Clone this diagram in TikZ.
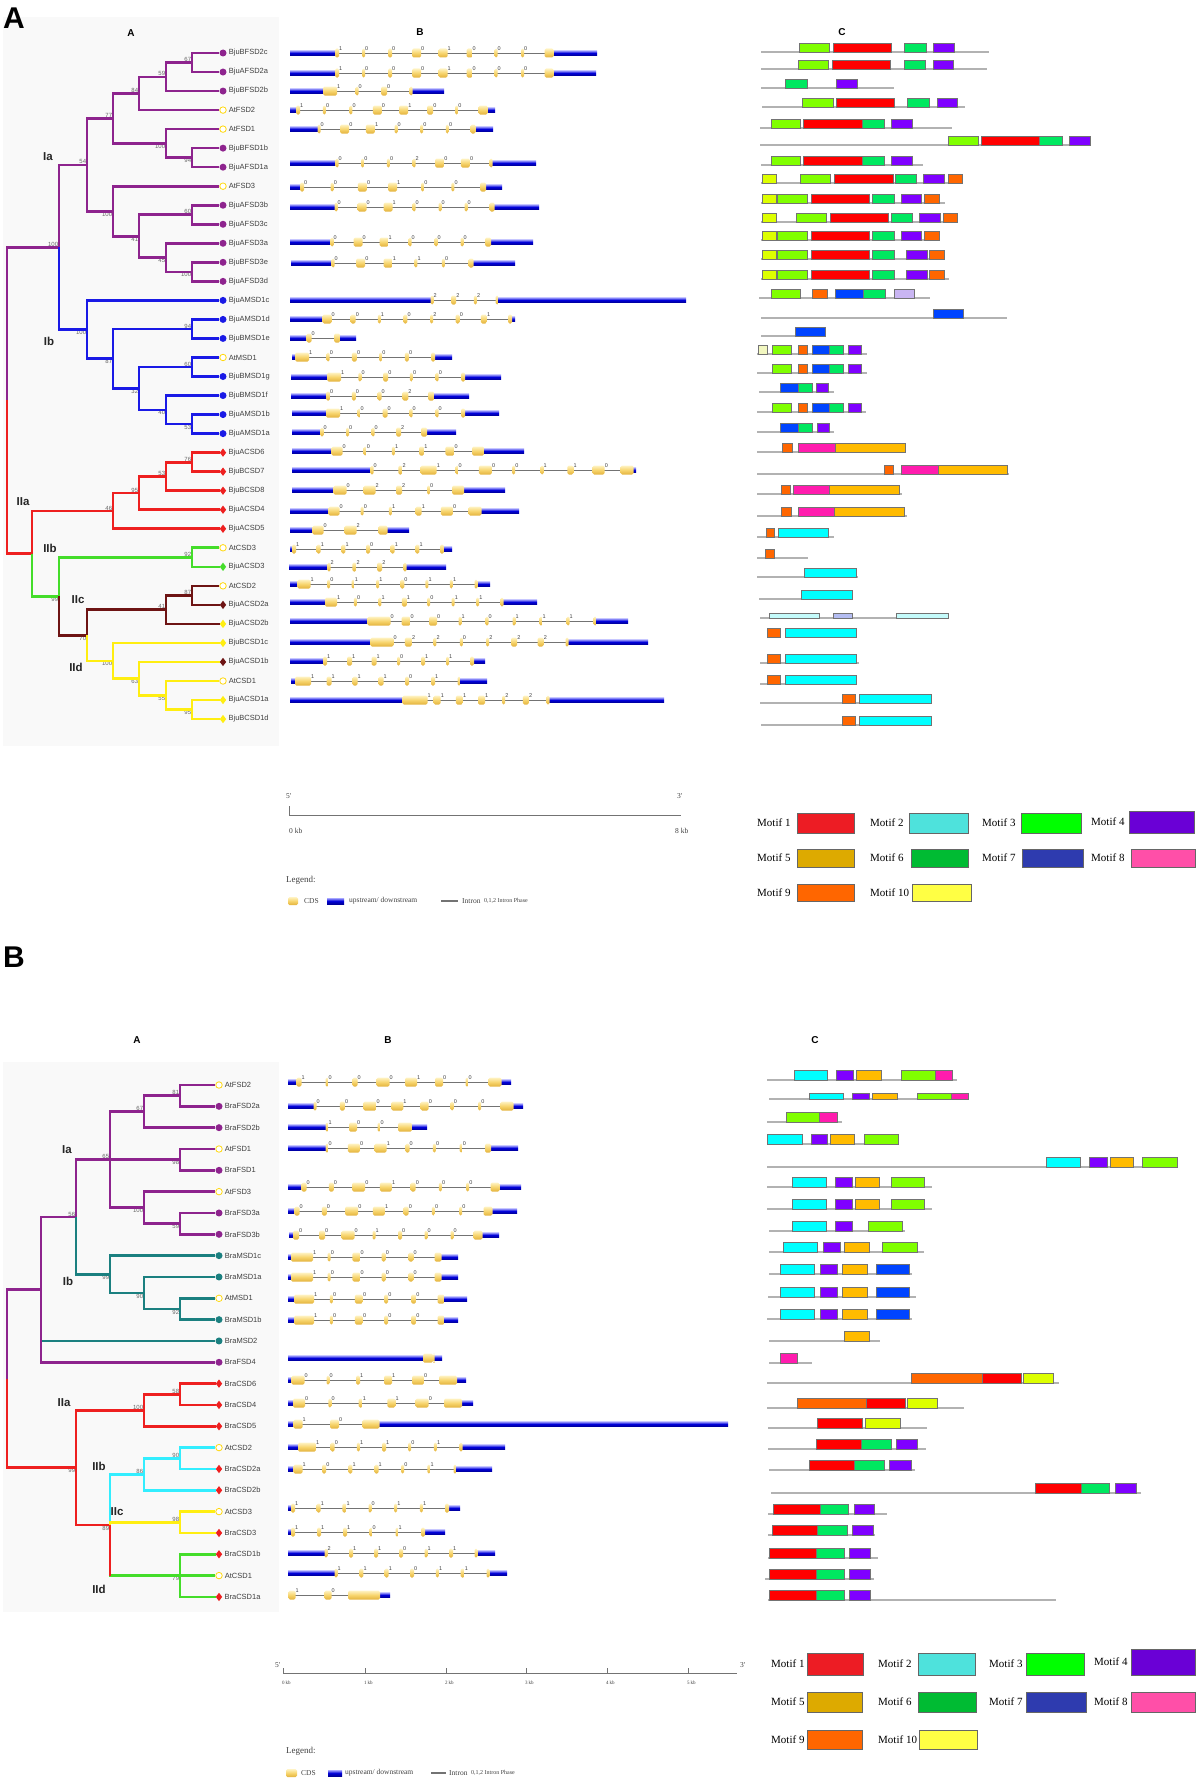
\documentclass[tikz,border=0pt]{standalone}
\usepackage{fontspec}
\setmainfont{Liberation Sans}
\newfontfamily\legfont{Liberation Serif}
\usetikzlibrary{shapes.geometric}

% clade colours
\definecolor{cpurple}{HTML}{8E248E}
\definecolor{cblue}{HTML}{1A1AE6}
\definecolor{cred}{HTML}{EE2020}
\definecolor{cgreen}{HTML}{44DD2A}
\definecolor{cbrown}{HTML}{6E1414}
\definecolor{cyell}{HTML}{FFEE11}
\definecolor{cteal}{HTML}{1B8080}
\definecolor{ccyan}{HTML}{33EEFF}
% gene parts
\definecolor{exontop}{HTML}{FFF3C4}
\definecolor{exonmid}{HTML}{F7D56E}
\definecolor{exonbot}{HTML}{E3B23C}
% motif boxes
\definecolor{mlime}{HTML}{80FF00}
\definecolor{mred}{HTML}{FF0000}
\definecolor{mgreen}{HTML}{00E860}
\definecolor{mpurple}{HTML}{7F00FF}
\definecolor{myellow}{HTML}{DDFF00}
\definecolor{morange}{HTML}{FF6600}
\definecolor{mblue}{HTML}{0044FF}
\definecolor{mmagenta}{HTML}{FF1CAE}
\definecolor{mgold}{HTML}{FFBB00}
\definecolor{mcyan}{HTML}{00FFFF}
\definecolor{mlav}{HTML}{C9B5F2}
\definecolor{mpale}{HTML}{F2F7C0}
\definecolor{mcyanf}{HTML}{C4FBFB}
\definecolor{mbluef}{HTML}{B4BDF2}
% motif key
\definecolor{k1}{HTML}{ED1C24}
\definecolor{k2}{HTML}{4EE2DC}
\definecolor{k3}{HTML}{00FF00}
\definecolor{k4}{HTML}{6A00D6}
\definecolor{k5}{HTML}{DDAA00}
\definecolor{k6}{HTML}{00BB33}
\definecolor{k7}{HTML}{2E3BAF}
\definecolor{k8}{HTML}{FF4FA8}
\definecolor{k9}{HTML}{FF6600}
\definecolor{k10}{HTML}{FFFF44}

\tikzset{
  tree/.style={line width=2.6pt},
  clIa/.style={tree, draw=cpurple},
  clIb/.style={tree, draw=cblue},
  clIIa/.style={tree, draw=cred},
  clIIb/.style={tree, draw=cgreen},
  clIIc/.style={tree, draw=cbrown},
  clIId/.style={tree, draw=cyell},
  clteal/.style={tree, draw=cteal},
  clcyan/.style={tree, draw=ccyan},
  mkpurple/.style={circle, fill=cpurple, minimum size=7pt, inner sep=0pt},
  mkblue/.style={circle, fill=cblue, minimum size=7pt, inner sep=0pt},
  mkteal/.style={circle, fill=cteal, minimum size=7pt, inner sep=0pt},
  mkopen/.style={circle, draw=cyell!80!orange, fill=white, line width=0.8pt, minimum size=6.5pt, inner sep=0pt},
  mkred/.style={diamond, fill=cred, minimum width=6.5pt, minimum height=8.5pt, inner sep=0pt},
  mkgreen/.style={diamond, fill=cgreen, minimum width=6.5pt, minimum height=8.5pt, inner sep=0pt},
  mkbrown/.style={diamond, fill=cbrown, minimum width=6.5pt, minimum height=8.5pt, inner sep=0pt},
  mkyell/.style={diamond, fill=cyell, minimum width=6.5pt, minimum height=8.5pt, inner sep=0pt},
  leaflab/.style={font=\fontsize{7.5}{8}\selectfont, text=black!75, inner sep=0pt, anchor=west},
  boot/.style={font=\fontsize{6}{6}\selectfont, text=black!60, inner sep=0.4pt},
  bootup/.style={above left=0.3pt},
  bootdn/.style={below left=0.3pt},
  cladelab/.style={font=\bfseries\fontsize{11.5}{12}\selectfont, text=black!85},
  colhead/.style={font=\bfseries\fontsize{10}{10}\selectfont},
  panelletter/.style={font=\bfseries\fontsize{30}{30}\selectfont},
  treebg/.style={fill=black!2.5},
  utrbar/.style={top color=blue!35, bottom color=blue!60!black, middle color=blue!85!black},
  exonbox/.style={rounded corners=1.5pt, top color=exontop, bottom color=exonbot, middle color=exonmid},
  intronline/.style={draw=black!55, line width=0.9pt},
  phasenum/.style={font=\fontsize{5.5}{5.5}\selectfont, text=black!75, inner sep=0pt, anchor=south west},
  motifbase/.style={draw=black!30, line width=1.3pt},
  motifbox/.style={draw=black!55, line width=0.4pt},
  keybox/.style={draw=black!60, line width=0.8pt},
  keylab/.style={font=\legfont\fontsize{11}{11}\selectfont, anchor=west, inner sep=0pt},
  leglab/.style={font=\legfont\fontsize{7.5}{8}\selectfont, anchor=west, inner sep=0pt, text=black!75},
  scaleline/.style={draw=black!55, line width=1pt}
}

% one gene: y, start, first exon, last exon, end, exon widths/phases (9 = none)
\newcommand{\generow}[6]{%
  \shade[utrbar] (#2,#1-2.5) rectangle (#3,#1+2.5);
  \shade[utrbar] (#4,#1-2.5) rectangle (#5,#1+2.5);
  \draw[intronline] (#3,#1) -- (#4,#1);
  \foreach \w/\p [count=\k] in {#6} {\xdef\nexon{\k}}
  \foreach \w/\p [count=\k] in {#6} {
    \pgfmathsetmacro\cx{#3+(\k-1)*(#4-#3)/(\nexon-1)}
    \shade[exonbox] (\cx-\w/2,#1-4.5) rectangle (\cx+\w/2,#1+4.5);
    \ifnum\p<9 \node[phasenum] (ph#1-\k) at (\cx+\w/2,#1-2) {\p};\fi
  }
}

% one protein: [box height] y, line start, line end, boxes x1/x2/colour
\newcommand{\motifrow}[5][9]{%
  \draw[motifbase] (#3,#2) -- (#4,#2);
  \foreach \ma/\mb/\mc in {#5} {\filldraw[motifbox, fill=\mc] (\ma,#2) rectangle (\mb,#2-#1);}
}

\begin{document}
\begin{tikzpicture}[x=1pt, y=-1pt]
\useasboundingbox (0,0) rectangle (1200,1785);

% ---------------- panel A ----------------
\fill[treebg] (3,17) rectangle (279,746);
\node[panelletter] (pA) at (14,18) {A};
\node[colhead] (hA1) at (131,33) {A};
\node[colhead] (hA2) at (420,32) {B};
\node[colhead] (hA3) at (842,32) {C};

% leaves
\foreach \i/\nm/\mk in {1/BjuBFSD2c/mkpurple, 2/BjuAFSD2a/mkpurple, 3/BjuBFSD2b/mkpurple,
  4/AtFSD2/mkopen, 5/AtFSD1/mkopen, 6/BjuBFSD1b/mkpurple, 7/BjuAFSD1a/mkpurple,
  8/AtFSD3/mkopen, 9/BjuAFSD3b/mkpurple, 10/BjuAFSD3c/mkpurple, 11/BjuAFSD3a/mkpurple,
  12/BjuBFSD3e/mkpurple, 13/BjuAFSD3d/mkpurple, 14/BjuAMSD1c/mkblue, 15/BjuAMSD1d/mkblue,
  16/BjuBMSD1e/mkblue, 17/AtMSD1/mkopen, 18/BjuBMSD1g/mkblue, 19/BjuBMSD1f/mkblue,
  20/BjuAMSD1b/mkblue, 21/BjuAMSD1a/mkblue, 22/BjuACSD6/mkred, 23/BjuBCSD7/mkred,
  24/BjuBCSD8/mkred, 25/BjuACSD4/mkred, 26/BjuACSD5/mkred, 27/AtCSD3/mkopen,
  28/BjuACSD3/mkgreen, 29/AtCSD2/mkopen, 30/BjuACSD2a/mkbrown, 31/BjuACSD2b/mkyell,
  32/BjuBCSD1c/mkyell, 33/BjuACSD1b/mkbrown, 34/AtCSD1/mkopen, 35/BjuACSD1a/mkyell,
  36/BjuBCSD1d/mkyell} {
  \node[\mk] (a\i) at (223,{53+(\i-1)*19.03}) {};
  \node[leaflab] (al\i) at ([xshift=2pt]a\i.east) {\nm};
}

% inner nodes with bootstrap values
\coordinate (rootA) at (7,400.4);
\coordinate (nII) at (32,553.6);
\foreach \n/\x/\y/\b/\pos in {nI/59/247.2/100/bootup, nIa/87/164.8/54/bootup,
  n77/113/118.4/77/bootup, n84/139/93.4/84/bootup, n59/166/76.8/59/bootup,
  n67/192/62.5/67/bootup, nF1/166/143.4/100/bootdn, n94/192/157.7/94/bootdn,
  nF3/113/211.2/100/bootdn, n60a/192/214.7/60/bootup, n41a/139/236.2/41/bootdn,
  n45/166/257.6/45/bootdn, n100e/192/271.9/100/bootdn, nIb/87/329.6/100/bootdn,
  n94b/192/329/94/bootup, n87/113/358.7/87/bootdn, n32/139/388.4/32/bootdn,
  n60b/192/367/60/bootup, n40/166/409.8/40/bootdn, n53b/192/424.1/53/bootdn,
  nIIa/113/511/46/bootup, n95/139/493.1/95/bootup, n53c/166/476.4/53/bootup,
  n76/192/462.2/76/bootup, nIIbcd/59/596.3/99/bootdn, nIIb/192/557.3/92/bootup,
  nIIcd/87/635.2/70/bootdn, nIIc/166/609.6/41/bootup, n87c/192/595.4/87/bootup,
  nIId/113/660.8/100/bootdn, n63/139/678.6/63/bootdn, n55/166/695.3/55/bootdn,
  n95d/192/709.5/95/bootdn} {
  \coordinate (\n) at (\x,\y);
  \node[boot,\pos] (bt\n) at (\n) {\b};
}

% branches
\foreach \p/\c/\s in {rootA/nI/clIa, rootA/nII/clIIa, nI/nIa/clIa, nI/nIb/clIb,
  nIa/n77/clIa, nIa/nF3/clIa, n77/n84/clIa, n77/nF1/clIa, n84/n59/clIa, n84/a4/clIa,
  n59/n67/clIa, n59/a3/clIa, n67/a1/clIa, n67/a2/clIa, nF1/a5/clIa, nF1/n94/clIa,
  n94/a6/clIa, n94/a7/clIa, nF3/a8/clIa, nF3/n41a/clIa, n41a/n60a/clIa, n41a/n45/clIa,
  n60a/a9/clIa, n60a/a10/clIa, n45/a11/clIa, n45/n100e/clIa, n100e/a12/clIa, n100e/a13/clIa,
  nIb/a14/clIb, nIb/n87/clIb, n87/n94b/clIb, n87/n32/clIb, n94b/a15/clIb, n94b/a16/clIb,
  n32/n60b/clIb, n32/n40/clIb, n60b/a17/clIb, n60b/a18/clIb, n40/a19/clIb, n40/n53b/clIb,
  n53b/a20/clIb, n53b/a21/clIb,
  nII/nIIa/clIIa, nII/nIIbcd/clIIb, nIIa/n95/clIIa, nIIa/a26/clIIa, n95/n53c/clIIa,
  n95/a25/clIIa, n53c/n76/clIIa, n53c/a24/clIIa, n76/a22/clIIa, n76/a23/clIIa,
  nIIbcd/nIIb/clIIb, nIIbcd/nIIcd/clIIc, nIIb/a27/clIIb, nIIb/a28/clIIb,
  nIIcd/nIIc/clIIc, nIIcd/nIId/clIId, nIIc/n87c/clIIc, nIIc/a31/clIIc,
  n87c/a29/clIIc, n87c/a30/clIIc, nIId/a32/clIId, nIId/n63/clIId, n63/a33/clIId,
  n63/n55/clIId, n55/a34/clIId, n55/n95d/clIId, n95d/a35/clIId, n95d/a36/clIId} {
  \draw[\s] (\p) |- (\c);
}

% clade names
\node[cladelab] (cAIa) at (48,157) {Ia};
\node[cladelab] (cAIb) at (49,341) {Ib};
\node[cladelab] (cAIIa) at (23,502) {IIa};
\node[cladelab] (cAIIb) at (50,548) {IIb};
\node[cladelab] (cAIIc) at (78,600) {IIc};
\node[cladelab] (cAIId) at (76,667) {IId};

% gene structures
\generow{53}{290}{337}{549}{597}{4/1,3/0,4/0,9/0,9/1,6/0,3/0,3/0,9/9}
\generow{73}{290}{337}{549}{596}{4/1,3/0,4/0,9/0,9/1,6/0,3/0,3/0,9/9}
\generow{91}{290}{330}{411}{444}{14/1,3/0,6/0,3/9}
\generow{110}{290}{298}{483}{495}{4/1,3/0,3/0,9/0,9/1,6/0,3/0,9/9}
\generow{129}{290}{319}{473}{493}{3/0,9/0,9/1,3/0,3/0,3/0,5/9}
\generow{163}{290}{337}{491}{536}{3/0,3/0,3/0,3/2,9/0,9/0,3/9}
\generow{187}{290}{302}{483}{502}{4/0,3/0,9/0,9/1,3/0,3/0,6/9}
\generow{207}{290}{336}{492}{539}{3/0,9/0,9/1,3/0,3/0,3/0,5/9}
\generow{242}{290}{332}{488}{533}{3/0,9/0,9/1,3/0,3/0,3/0,6/9}
\generow{263}{291}{333}{471}{515}{3/0,9/0,9/1,3/1,3/0,5/9}
\generow{300}{290}{432}{497}{686}{3/2,5/2,3/2,3/9}
\generow{319}{290}{327}{510}{515}{9/0,5/0,3/1,4/0,3/2,4/0,6/1,4/9}
\generow{338}{290}{309}{337}{356}{5/0,6/9}
\generow{357}{292}{302}{433}{452}{14/1,3/0,5/0,3/0,4/0,4/9}
\generow{377}{291}{334}{463}{501}{14/1,3/0,5/0,3/0,3/0,4/9}
\generow{396}{291}{328}{431}{469}{4/0,4/0,4/0,6/2,6/9}
\generow{413}{292}{333}{463}{499}{14/1,3/0,5/0,3/0,3/0,4/9}
\generow{432}{292}{322}{424}{456}{3/0,3/0,3/0,5/2,6/9}
\generow{451}{292}{337}{478}{524}{11/0,3/0,3/1,5/1,9/0,12/9}
\generow{470}{292}{372}{627}{636}{3/0,4/2,16/1,3/0,13/0,3/0,3/1,6/1,12/0,13/9}
\generow{490}{292}{340}{458}{505}{13/0,12/2,6/2,3/0,12/9}
\generow{511}{290}{334}{475}{519}{11/0,3/0,3/1,6/1,12/0,13/9}
\generow{530}{290}{318}{383}{409}{11/0,12/2,9/9}
\generow{549}{290}{294}{442}{452}{4/1,4/1,4/1,4/0,4/1,4/1,4/9}
\generow{567}{289}{329}{405}{446}{3/2,4/2,5/2,3/9}
\generow{584}{290}{304}{476}{490}{13/1,3/0,3/1,3/1,4/0,3/1,3/1,3/9}
\generow{602}{290}{331}{502}{537}{12/1,3/0,3/1,5/1,3/0,3/1,3/1,3/9}
\generow{621}{290}{379}{595}{628}{23/0,9/0,8/0,3/1,3/0,3/1,3/1,3/1,3/9}
\generow{642}{290}{382}{567}{648}{23/0,7/2,3/2,3/0,3/2,6/2,6/2,3/9}
\generow{661}{290}{325}{472}{485}{4/1,5/1,5/1,3/0,4/1,3/1,4/9}
\generow{681}{291}{303}{459}{487}{16/1,5/1,5/1,5/1,4/0,4/1,3/9}
\generow{700}{290}{415}{548}{664}{25/1,7/1,7/1,7/1,3/2,6/2,3/9}

% conserved motifs
\motifrow{52}{761}{989}{799/829/mlime, 833/891/mred, 904/926/mgreen, 933/954/mpurple}
\motifrow{69}{761}{987}{798/828/mlime, 832/890/mred, 904/925/mgreen, 933/953/mpurple}
\motifrow{88}{761}{894}{785/807/mgreen, 836/857/mpurple}
\motifrow{107}{762}{965}{802/833/mlime, 836/894/mred, 907/929/mgreen, 937/957/mpurple}
\motifrow{128}{760}{952}{771/800/mlime, 803/862/mred, 862/884/mgreen, 891/912/mpurple}
\motifrow{145}{760}{1090}{948/978/mlime, 981/1039/mred, 1039/1062/mgreen, 1069/1090/mpurple}
\motifrow{165}{761}{923}{771/800/mlime, 803/862/mred, 862/884/mgreen, 891/912/mpurple}
\motifrow{183}{761}{962}{762/776/myellow, 800/830/mlime, 834/893/mred, 895/916/mgreen, 923/944/mpurple, 948/962/morange}
\motifrow{203}{761}{945}{762/776/myellow, 777/807/mlime, 811/869/mred, 872/894/mgreen, 901/921/mpurple, 924/939/morange}
\motifrow{222}{761}{958}{762/776/myellow, 796/826/mlime, 830/888/mred, 891/912/mgreen, 919/940/mpurple, 943/957/morange}
\motifrow{240}{761}{940}{762/776/myellow, 777/807/mlime, 811/869/mred, 872/894/mgreen, 901/921/mpurple, 924/939/morange}
\motifrow{259}{761}{945}{762/776/myellow, 777/807/mlime, 811/869/mred, 872/894/mgreen, 906/927/mpurple, 929/944/morange}
\motifrow{279}{761}{949}{762/776/myellow, 777/807/mlime, 811/869/mred, 872/894/mgreen, 906/927/mpurple, 929/944/morange}
\motifrow{298}{759}{930}{771/800/mlime, 812/827/morange, 835/863/mblue, 863/885/mgreen, 894/914/mlav}
\motifrow{318}{761}{1007}{933/963/mblue}
\motifrow{336}{761}{825}{795/825/mblue}
\motifrow{354}{757}{867}{758/767/mpale, 772/791/mlime, 798/807/morange, 812/829/mblue, 829/843/mgreen, 848/861/mpurple}
\motifrow{373}{757}{867}{772/791/mlime, 798/807/morange, 812/829/mblue, 829/843/mgreen, 848/861/mpurple}
\motifrow{392}{759}{834}{780/798/mblue, 798/812/mgreen, 816/828/mpurple}
\motifrow{412}{757}{866}{772/791/mlime, 798/807/morange, 812/829/mblue, 829/843/mgreen, 848/861/mpurple}
\motifrow{432}{757}{834}{780/798/mblue, 798/812/mgreen, 817/829/mpurple}
\motifrow{452}{757}{906}{782/792/morange, 798/835/mmagenta, 835/905/mgold}
\motifrow{474}{757}{1009}{884/893/morange, 901/938/mmagenta, 938/1007/mgold}
\motifrow{494}{757}{902}{781/790/morange, 793/829/mmagenta, 829/899/mgold}
\motifrow{516}{757}{907}{781/791/morange, 798/834/mmagenta, 834/904/mgold}
\motifrow{537}{757}{834}{766/774/morange, 778/828/mcyan}
\motifrow{558}{757}{808}{765/774/morange}
\motifrow{577}{757}{858}{804/856/mcyan}
\motifrow{599}{759}{852}{801/852/mcyan}
\motifrow[5]{618}{760}{949}{769/819/mcyanf, 833/852/mbluef, 896/948/mcyanf}
\motifrow{637}{767}{767}{767/780/morange, 785/856/mcyan}
\motifrow{663}{760}{859}{767/780/morange, 785/856/mcyan}
\motifrow{684}{760}{856}{767/780/morange, 785/856/mcyan}
\motifrow{703}{760}{931}{842/855/morange, 859/931/mcyan}
\motifrow{725}{761}{932}{842/855/morange, 859/931/mcyan}

% scale and legends
\draw[scaleline] (289,806) -- (289,815) -- (681,815);
\node[leglab] (sA5) at (286,796) {5'};
\node[leglab] (sA3) at (677,796) {3'};
\node[leglab] (sA0) at (289,831) {0 kb};
\node[leglab] (sA8) at (675,831) {8 kb};
\node[leglab, font=\legfont\fontsize{9}{9}\selectfont] (legA) at (286,880) {Legend:};
\shade[exonbox] (288,897) rectangle (298,905);
\node[leglab] (cdsA) at (304,901) {CDS};
\shade[utrbar] (327,898) rectangle (344,904);
\node[leglab] (utrA) at (349,901) {upstream/ downstream};
\draw[intronline, line width=1.5pt] (441,901) -- (458,901);
\node[leglab] (intA) at (462,901) {Intron};
\node[leglab, font=\legfont\fontsize{6}{6}\selectfont] (phA) at (484,901) {0,1,2 Intron Phase};

\foreach \k/\lx/\ba/\bb/\ya/\yb in {1/757/797/854/813/833, 2/870/909/968/813/833,
  3/982/1021/1081/813/833, 4/1091/1129/1194/811/833, 5/757/797/854/849/867,
  6/870/911/968/849/867, 7/982/1022/1083/849/867, 8/1091/1131/1195/849/867,
  9/757/797/854/884/901, 10/870/912/971/884/901} {
  \filldraw[keybox, fill=k\k] (\ba,\ya) rectangle (\bb,\yb);
  \node[keylab] (keyA\k) at (\lx,{(\ya+\yb)/2}) {Motif \k};
}

% ---------------- panel B ----------------
\fill[treebg] (3,1062) rectangle (279,1612);
\node[panelletter] (pB) at (14,957) {B};
\node[colhead] (hB1) at (137,1040) {A};
\node[colhead] (hB2) at (388,1040) {B};
\node[colhead] (hB3) at (815,1040) {C};

\foreach \i/\nm/\mk in {1/AtFSD2/mkopen, 2/BraFSD2a/mkpurple, 3/BraFSD2b/mkpurple,
  4/AtFSD1/mkopen, 5/BraFSD1/mkpurple, 6/AtFSD3/mkopen, 7/BraFSD3a/mkpurple,
  8/BraFSD3b/mkpurple, 9/BraMSD1c/mkteal, 10/BraMSD1a/mkteal, 11/AtMSD1/mkopen,
  12/BraMSD1b/mkteal, 13/BraMSD2/mkteal, 14/BraFSD4/mkpurple, 15/BraCSD6/mkred,
  16/BraCSD4/mkred, 17/BraCSD5/mkred, 18/AtCSD2/mkopen, 19/BraCSD2a/mkred,
  20/BraCSD2b/mkred, 21/AtCSD3/mkopen, 22/BraCSD3/mkred, 23/BraCSD1b/mkred,
  24/AtCSD1/mkopen, 25/BraCSD1a/mkred} {
  \node[\mk] (b\i) at (219,{1085+(\i-1)*21.33}) {};
  \node[leaflab] (bl\i) at ([xshift=2pt]b\i.east) {\nm};
}

\coordinate (rootB) at (7,1378.7);
\coordinate (mI) at (41,1289.7);
\foreach \n/\x/\y/\b/\pos in {m56/76/1217/56/bootup, mIa/110/1159.7/65/bootup,
  m67/144/1111.7/67/bootup, m81/180/1095.7/81/bootup, m98/180/1159.7/98/bootdn,
  m100/144/1207.7/100/bootdn, m59/180/1223.7/59/bootdn, mIb/110/1274.3/99/bootdn,
  m90/144/1293/90/bootdn, m92/180/1309/92/bootdn, mII/76/1467.6/99/bootdn,
  mIIa/144/1410.3/100/bootup, m58/180/1394.3/58/bootup, m89/110/1525/89/bootdn,
  mIIb/144/1474.3/86/bootup, m90c/180/1458.3/90/bootup, mIIc/180/1522.3/98/bootup,
  mIId/180/1575.6/79/bootdn} {
  \coordinate (\n) at (\x,\y);
  \node[boot,\pos] (bt\n) at (\n) {\b};
}

\foreach \p/\c/\s in {rootB/mI/clIa, rootB/mII/clIIa, mI/b13/clteal, mI/m56/clIa,
  mI/b14/clIa, m56/mIa/clIa, m56/mIb/clteal, mIa/m67/clIa, mIa/m98/clIa, mIa/m100/clIa,
  m67/m81/clIa, m67/b3/clIa, m81/b1/clIa, m81/b2/clIa, m98/b4/clIa, m98/b5/clIa,
  m100/b6/clIa, m100/m59/clIa, m59/b7/clIa, m59/b8/clIa, mIb/b9/clteal, mIb/m90/clteal,
  m90/b10/clteal, m90/m92/clteal, m92/b11/clteal, m92/b12/clteal,
  mII/mIIa/clIIa, mII/m89/clIIa, mIIa/m58/clIIa, mIIa/b17/clIIa, m58/b15/clIIa,
  m58/b16/clIIa, m89/mIIb/clcyan, m89/mIIc/clIId, m89/mIId/clIIb, mIIb/m90c/clcyan,
  mIIb/b20/clcyan, m90c/b18/clcyan, m90c/b19/clcyan, mIIc/b21/clIId, mIIc/b22/clIId,
  mIId/b23/clIIb, mIId/b24/clIIb, mIId/b25/clIIb} {
  \draw[\s] (\p) |- (\c);
}
\draw[clIIa] (m89) -- (m89 |- mIId);

\node[cladelab] (cBIa) at (67,1150) {Ia};
\node[cladelab] (cBIb) at (68,1281) {Ib};
\node[cladelab] (cBIIa) at (64,1403) {IIa};
\node[cladelab] (cBIIb) at (99,1466) {IIb};
\node[cladelab] (cBIIc) at (117,1512) {IIc};
\node[cladelab] (cBIId) at (99,1589) {IId};

\generow{1082}{288}{299}{495}{511}{5/1,3/0,5/0,13/0,12/1,8/0,3/0,13/9}
\generow{1106}{288}{315}{507}{523}{3/0,5/0,13/0,12/1,8/0,3/0,3/0,13/9}
\generow{1127}{288}{327}{405}{427}{3/1,8/0,3/0,14/9}
\generow{1148}{288}{327}{488}{518}{3/0,12/0,12/1,4/0,3/0,3/0,6/9}
\generow{1187}{288}{304}{495}{521}{5/0,5/0,13/0,12/1,5/0,3/0,3/0,9/9}
\generow{1211}{288}{297}{488}{517}{5/0,5/0,13/0,12/1,5/0,3/0,3/0,9/9}
\generow{1235}{289}{296}{478}{499}{6/0,6/0,13/0,3/1,4/0,3/0,3/0,9/9}
\generow{1257}{288}{302}{438}{458}{22/1,3/0,8/0,4/0,5/0,7/9}
\generow{1277}{288}{302}{438}{458}{22/1,3/0,8/0,4/0,5/0,7/9}
\generow{1299}{288}{304}{441}{467}{20/1,3/0,8/0,4/0,5/0,7/9}
\generow{1320}{288}{304}{441}{458}{20/1,3/0,8/0,4/0,5/0,7/9}
\generow{1358}{288}{428}{434}{442}{10/9,1/9}
\generow{1380}{288}{298}{448}{466}{13/0,3/0,4/1,8/1,12/0,18/9}
\generow{1403}{288}{299}{453}{473}{12/0,3/0,4/1,8/1,13/0,18/9}
\generow{1424}{288}{298}{371}{728}{9/1,9/0,17/9}
\generow{1447}{288}{307}{461}{505}{18/1,4/0,3/1,4/1,3/0,3/1,3/9}
\generow{1469}{288}{298}{455}{492}{9/1,4/0,4/1,4/1,3/0,3/1,3/9}
\generow{1508}{288}{293}{447}{460}{4/1,4/1,4/1,3/0,3/1,3/1,4/9}
\generow{1532}{288}{293}{423}{445}{4/1,4/1,4/1,3/0,3/1,4/9}
\generow{1553}{288}{326}{476}{495}{3/2,4/1,4/1,4/0,3/1,4/1,3/9}
\generow{1573}{288}{336}{488}{507}{3/1,4/1,4/1,4/0,3/1,4/1,3/9}
\generow{1595}{290}{292}{364}{390}{7/1,7/0,32/9}

\motifrow[10]{1080}{767}{957}{794/827/mcyan, 836/853/mpurple, 856/881/mgold, 901/935/mlime, 935/952/mmagenta}
\motifrow[6]{1099}{769}{968}{809/843/mcyan, 852/869/mpurple, 872/897/mgold, 917/951/mlime, 951/968/mmagenta}
\motifrow[10]{1122}{767}{842}{786/819/mlime, 819/837/mmagenta}
\motifrow[10]{1144}{767}{899}{767/802/mcyan, 811/827/mpurple, 830/854/mgold, 864/898/mlime}
\motifrow[10]{1167}{767}{1178}{1046/1080/mcyan, 1089/1107/mpurple, 1110/1133/mgold, 1142/1177/mlime}
\motifrow[10]{1187}{767}{932}{792/826/mcyan, 835/852/mpurple, 855/879/mgold, 891/924/mlime}
\motifrow[10]{1209}{767}{932}{792/826/mcyan, 835/852/mpurple, 855/879/mgold, 891/924/mlime}
\motifrow[10]{1231}{769}{905}{792/826/mcyan, 835/852/mpurple, 868/902/mlime}
\motifrow[10]{1252}{769}{924}{783/817/mcyan, 823/840/mpurple, 844/869/mgold, 882/917/mlime}
\motifrow[10]{1274}{769}{912}{780/814/mcyan, 820/837/mpurple, 842/867/mgold, 876/909/mblue}
\motifrow[10]{1297}{768}{916}{780/814/mcyan, 820/837/mpurple, 842/867/mgold, 876/909/mblue}
\motifrow[10]{1319}{767}{912}{780/814/mcyan, 820/837/mpurple, 842/867/mgold, 876/909/mblue}
\motifrow[10]{1341}{769}{880}{844/869/mgold}
\motifrow[10]{1363}{769}{812}{780/797/mmagenta}
\motifrow[10]{1383}{767}{1059}{911/982/morange, 982/1021/mred, 1023/1053/myellow}
\motifrow[10]{1408}{767}{964}{797/866/morange, 866/905/mred, 907/937/myellow}
\motifrow[10]{1428}{768}{927}{817/862/mred, 865/900/myellow}
\motifrow[10]{1449}{768}{926}{816/861/mred, 861/891/mgreen, 896/917/mpurple}
\motifrow[10]{1470}{769}{915}{809/854/mred, 854/884/mgreen, 889/911/mpurple}
\motifrow[10]{1493}{771}{1141}{1035/1081/mred, 1081/1109/mgreen, 1115/1136/mpurple}
\motifrow[10]{1514}{768}{887}{773/820/mred, 820/848/mgreen, 854/874/mpurple}
\motifrow[10]{1535}{768}{875}{772/817/mred, 817/847/mgreen, 852/873/mpurple}
\motifrow[10]{1558}{768}{878}{769/816/mred, 816/844/mgreen, 849/870/mpurple}
\motifrow[10]{1579}{765}{874}{769/816/mred, 816/844/mgreen, 849/870/mpurple}
\motifrow[10]{1600}{768}{1056}{769/816/mred, 816/844/mgreen, 849/870/mpurple}

\draw[scaleline] (283,1673) -- (737,1673);
\foreach \t [count=\k from 0] in {283,365,446,526,607,688} {
  \draw[scaleline, line width=0.6pt] (\t,1668) -- (\t,1673);
  \node[leglab, font=\legfont\fontsize{5}{5}\selectfont] (kb\k) at (\t-1,1683) {\k\,kb};
}
\node[leglab] (sB5) at (275,1665) {5'};
\node[leglab] (sB3) at (740,1665) {3'};
\node[leglab, font=\legfont\fontsize{9}{9}\selectfont] (legB) at (286,1751) {Legend:};
\shade[exonbox] (286,1769) rectangle (297,1777);
\node[leglab] (cdsB) at (301,1773) {CDS};
\shade[utrbar] (328,1770) rectangle (342,1776);
\node[leglab] (utrB) at (345,1773) {upstream/ downstream};
\draw[intronline, line width=1.5pt] (431,1773) -- (446,1773);
\node[leglab] (intB) at (449,1773) {Intron};
\node[leglab, font=\legfont\fontsize{6}{6}\selectfont] (phB) at (471,1773) {0,1,2 Intron Phase};

\foreach \k/\lx/\ba/\bb/\ya/\yb in {1/771/807/863/1653/1675, 2/878/918/975/1653/1675,
  3/989/1026/1084/1653/1675, 4/1094/1131/1195/1649/1675, 5/771/807/862/1692/1712,
  6/878/918/976/1692/1712, 7/989/1026/1086/1692/1712, 8/1094/1131/1195/1692/1712,
  9/771/807/862/1730/1749, 10/878/919/977/1730/1749} {
  \filldraw[keybox, fill=k\k] (\ba,\ya) rectangle (\bb,\yb);
  \node[keylab] (keyB\k) at (\lx,{(\ya+\yb)/2}) {Motif \k};
}

\end{tikzpicture}
\end{document}
